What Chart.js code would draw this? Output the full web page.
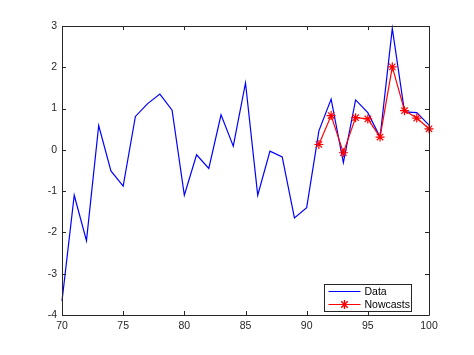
<!DOCTYPE html>
<html>
<head>
<meta charset="utf-8">
<title>Data and nowcasts</title>
<script src="https://cdn.jsdelivr.net/npm/chart.js@4.4.0/dist/chart.umd.min.js"></script>
<style>
    html, body { margin: 0; padding: 0; background: #fff; }
    #wrap { width: 474px; height: 355px; }
</style>
</head>
<body>
<div id="wrap"><canvas id="nowcastChart" width="474" height="355"></canvas></div>
<script>
// --- chart data ---
const years = [70, 71, 72, 73, 74, 75, 76, 77, 78, 79, 80, 81, 82, 83, 84, 85,
               86, 87, 88, 89, 90, 91, 92, 93, 94, 95, 96, 97, 98, 99, 100];
const dataValues = [-3.66, -1.10, -2.20, 0.59, -0.51, -0.88, 0.81, 1.12, 1.35, 0.96, -1.10,
                    -0.12, -0.45, 0.85, 0.09, 1.62, -1.10, -0.03, -0.17, -1.65, -1.40,
                    0.46, 1.23, -0.31, 1.21, 0.90, 0.31, 2.94, 0.92, 0.90, 0.60];
const nowcastYears = [91, 92, 93, 94, 95, 96, 97, 98, 99, 100];
const nowcastValues = [0.13, 0.83, -0.07, 0.78, 0.75, 0.31, 2.01, 0.95, 0.77, 0.51];
const seriesLabels = ['Data', 'Nowcasts'];
const xTicks = [70, 75, 80, 85, 90, 95, 100];
const yTicks = [-4, -3, -2, -1, 0, 1, 2, 3];

const AXIS_COLOR = '#262626';
const FONT = { family: '"Liberation Sans", Arial, Helvetica, sans-serif', size: 10.5 };

function toPoints(xs, ys) {
    return xs.map((x, i) => ({ x: x, y: ys[i] }));
}

/**
 * Draws the MATLAB style box: top/right border and inward tick marks on all sides.
 */
const boxPlugin = {
    id: 'matlabBox',
    afterDraw(chart) {
        const { ctx, chartArea: a, scales } = chart;
        const len = 4;
        ctx.save();
        ctx.strokeStyle = AXIS_COLOR;
        ctx.lineWidth = 1;
        ctx.beginPath();
        ctx.rect(Math.round(a.left) + 0.5, Math.round(a.top) + 0.5,
                 Math.round(a.right - a.left), Math.round(a.bottom - a.top));
        xTicks.forEach(v => {
            const px = Math.round(scales.x.getPixelForValue(v)) + 0.5;
            ctx.moveTo(px, a.bottom); ctx.lineTo(px, a.bottom - len);
            ctx.moveTo(px, a.top); ctx.lineTo(px, a.top + len);
        });
        yTicks.forEach(v => {
            const py = Math.round(scales.y.getPixelForValue(v)) + 0.5;
            ctx.moveTo(a.left, py); ctx.lineTo(a.left + len, py);
            ctx.moveTo(a.right, py); ctx.lineTo(a.right - len, py);
        });
        ctx.stroke();
        ctx.restore();
    }
};

/**
 * Legend box in the lower right corner of the axes.
 */
const legendPlugin = {
    id: 'insideLegend',
    afterDraw(chart) {
        const { ctx, chartArea: a } = chart;
        const w = 87, h = 27;
        const x0 = Math.round(a.right - 18 - w) + 0.5;
        const y0 = Math.round(a.bottom - 4 - h) + 0.5;
        ctx.save();
        ctx.fillStyle = '#fff';
        ctx.fillRect(x0, y0, w, h);
        ctx.strokeStyle = AXIS_COLOR;
        ctx.lineWidth = 1;
        ctx.strokeRect(x0, y0, w, h);

        chart.data.datasets.forEach((ds, i) => {
            const y = y0 + 7 + i * 13;
            ctx.strokeStyle = ds.borderColor;
            ctx.lineWidth = 1.2;
            ctx.beginPath();
            ctx.moveTo(x0 + 4, y);
            ctx.lineTo(x0 + 36, y);
            ctx.stroke();
            if (ds.pointStyle === 'star') {
                Chart.helpers.drawPoint(ctx, {
                    pointStyle: 'star', radius: ds.pointRadius, borderWidth: 1
                }, x0 + 20, y);
                ctx.stroke();
            }
            ctx.fillStyle = '#000';
            ctx.font = FONT.size + 'px ' + FONT.family;
            ctx.textBaseline = 'middle';
            ctx.fillText(ds.label, x0 + 40, y + 0.5);
        });
        ctx.restore();
    }
};

new Chart(document.getElementById('nowcastChart'), {
    type: 'line',
    data: {
        datasets: [{
            label: seriesLabels[0],
            data: toPoints(years, dataValues),
            borderColor: '#0000ff',
            borderWidth: 1.2,
            pointRadius: 0,
            tension: 0,
            order: 1,
            clip: false
        }, {
            label: seriesLabels[1],
            data: toPoints(nowcastYears, nowcastValues),
            borderColor: '#ff0000',
            backgroundColor: '#ff0000',
            borderWidth: 1.2,
            pointStyle: 'star',
            pointRadius: 4.5,
            pointBorderColor: '#ff0000',
            pointBorderWidth: 1.2,
            tension: 0,
            order: 0,
            clip: false
        }]
    },
    options: {
        responsive: false,
        animation: false,
        layout: { padding: { left: 0, right: 45, top: 26, bottom: 0 } },
        plugins: {
            legend: { display: false },
            tooltip: { enabled: false }
        },
        scales: {
            x: {
                type: 'linear',
                min: 70,
                max: 100,
                afterBuildTicks: scale => { scale.ticks = xTicks.map(v => ({ value: v })); },
                afterFit: scale => { scale.height = 40; },
                ticks: { color: AXIS_COLOR, font: FONT, padding: 5, maxRotation: 0 },
                grid: { display: false, drawTicks: false },
                border: { display: false }
            },
            y: {
                type: 'linear',
                min: -4,
                max: 3,
                afterBuildTicks: scale => { scale.ticks = yTicks.map(v => ({ value: v })); },
                afterFit: scale => { scale.width = 62; },
                ticks: { color: AXIS_COLOR, font: FONT, padding: 5 },
                grid: { display: false, drawTicks: false },
                border: { display: false }
            }
        }
    },
    plugins: [boxPlugin, legendPlugin]
});
</script>
</body>
</html>
